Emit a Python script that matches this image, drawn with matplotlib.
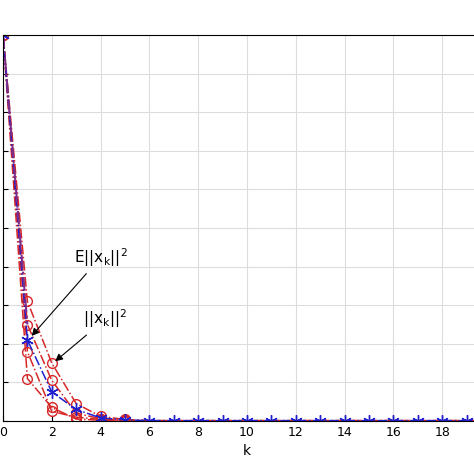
import numpy as np
import matplotlib
matplotlib.use("Agg")
import matplotlib.pyplot as plt

k = np.arange(0, 21)
mean_sq = [1.0, 0.21, 0.075, 0.03, 0.008, 0.003] + [0.001] * 15
run_a = [1.0, 0.31, 0.15, 0.045, 0.012, 0.004] + [0.001] * 15
run_b = [1.0, 0.11, 0.035, 0.005, 0.002, 0.001] + [0.0005] * 15
run_c = [1.0, 0.25, 0.105, 0.02, 0.006, 0.002] + [0.001] * 15
run_d = [1.0, 0.18, 0.025, 0.01, 0.004, 0.001] + [0.0005] * 15

fig = plt.figure(figsize=(4.74, 4.74), dpi=100)
ax = fig.add_axes([3 / 474, 53 / 474, 488 / 474, 386 / 474])

for run in (run_a, run_b, run_c, run_d):
    n = 6
    ax.plot(k[:n], run[:n], "-.", color="#d62728", marker="o", mfc="none",
            markersize=7, lw=1.1)
    ax.plot(k[n - 1:], run[n - 1:], "-.", color="#d62728", lw=1.1)
ax.plot(k, mean_sq, "-.", color="#1f1fcf", marker=(6, 2, 0), markersize=9,
        markeredgewidth=1.0, lw=1.1)
ax.plot(k[:2], [1.0, 0.25], "-.", color="#7b2d8b", lw=1.5)

ax.set_xlim(0, 20)
ax.set_ylim(0, 1)
ax.set_xticks(range(0, 19, 2))
ax.set_yticks(np.arange(0, 1.01, 0.1))
ax.set_yticklabels([])
ax.grid(True, color="#dddddd", lw=0.8)
ax.tick_params(direction="in", labelsize=9)
ax.set_xlabel("k", fontsize=10)

ax.annotate(r"E$||$x$_\mathrm{k}||^2$", xy=(1.1, 0.215), xytext=(4.0, 0.41),
            fontsize=11, ha="center",
            arrowprops=dict(arrowstyle="-|>", color="black", lw=0.8))
ax.annotate(r"$||$x$_\mathrm{k}||^2$", xy=(2.05, 0.15), xytext=(4.2, 0.25),
            fontsize=11, ha="center",
            arrowprops=dict(arrowstyle="-|>", color="black", lw=0.8))

fig.savefig("out.png", dpi=100)
